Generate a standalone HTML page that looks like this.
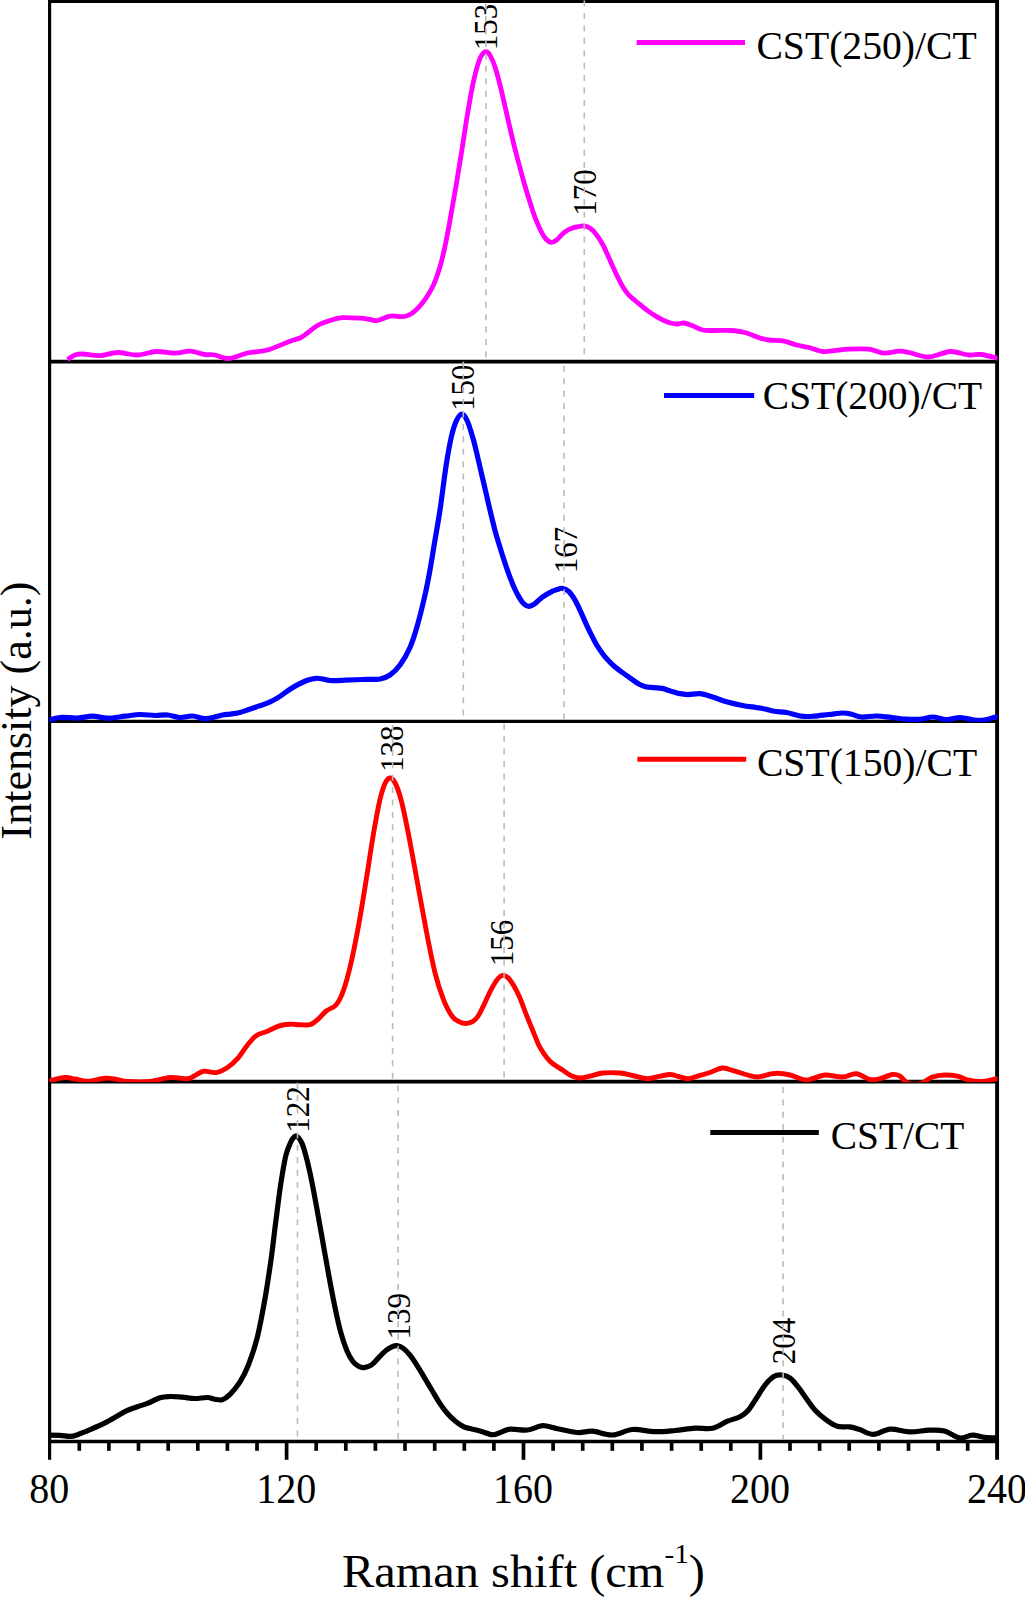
<!DOCTYPE html>
<html lang="en"><head><meta charset="utf-8"><title>Raman spectra</title>
<style>html,body{margin:0;padding:0;background:#fff}body{width:1025px;height:1598px;overflow:hidden}svg{display:block}text{font-family:"Liberation Serif",serif;fill:#000}</style></head><body>
<svg width="1025" height="1598" viewBox="0 0 1025 1598">
<rect width="1025" height="1598" fill="#fff"/>
<defs>
<clipPath id="c0"><rect x="49.4" y="1.4" width="948.2" height="360.8"/></clipPath>
<clipPath id="c1"><rect x="49.4" y="361.6" width="948.2" height="360.4"/></clipPath>
<clipPath id="c2"><rect x="49.4" y="721.4" width="948.2" height="360.8"/></clipPath>
<clipPath id="c3"><rect x="49.4" y="1081.6" width="948.2" height="360.5"/></clipPath>
</defs>
<g stroke="#000" stroke-width="3.4" fill="none" stroke-linecap="butt">
<line x1="49.6" y1="0" x2="49.6" y2="1459.8" stroke-width="3.2"/>
<line x1="997.1" y1="0" x2="997.1" y2="1459.8" stroke-width="3.9"/>
<line x1="48.0" y1="1.4" x2="999.0" y2="1.4" stroke-width="3.4"/>
<line x1="48.0" y1="361.6" x2="999.0" y2="361.6" stroke-width="3.7"/>
<line x1="48.0" y1="721.4" x2="999.0" y2="721.4" stroke-width="3.4"/>
<line x1="48.0" y1="1081.6" x2="999.0" y2="1081.6" stroke-width="3.8"/>
<line x1="48.0" y1="1441.5" x2="999.0" y2="1441.5" stroke-width="3.5"/>
<line x1="79.3" y1="1441.5" x2="79.3" y2="1450.8" stroke-width="3.7"/>
<line x1="108.9" y1="1441.5" x2="108.9" y2="1450.8" stroke-width="3.7"/>
<line x1="138.5" y1="1441.5" x2="138.5" y2="1450.8" stroke-width="3.7"/>
<line x1="168.2" y1="1441.5" x2="168.2" y2="1450.8" stroke-width="3.7"/>
<line x1="197.8" y1="1441.5" x2="197.8" y2="1450.8" stroke-width="3.7"/>
<line x1="227.4" y1="1441.5" x2="227.4" y2="1450.8" stroke-width="3.7"/>
<line x1="257.0" y1="1441.5" x2="257.0" y2="1450.8" stroke-width="3.7"/>
<line x1="286.6" y1="1441.5" x2="286.6" y2="1459.8" stroke-width="3.7"/>
<line x1="316.2" y1="1441.5" x2="316.2" y2="1450.8" stroke-width="3.7"/>
<line x1="345.8" y1="1441.5" x2="345.8" y2="1450.8" stroke-width="3.7"/>
<line x1="375.4" y1="1441.5" x2="375.4" y2="1450.8" stroke-width="3.7"/>
<line x1="405.0" y1="1441.5" x2="405.0" y2="1450.8" stroke-width="3.7"/>
<line x1="434.7" y1="1441.5" x2="434.7" y2="1450.8" stroke-width="3.7"/>
<line x1="464.3" y1="1441.5" x2="464.3" y2="1450.8" stroke-width="3.7"/>
<line x1="493.9" y1="1441.5" x2="493.9" y2="1450.8" stroke-width="3.7"/>
<line x1="523.5" y1="1441.5" x2="523.5" y2="1459.8" stroke-width="3.7"/>
<line x1="553.1" y1="1441.5" x2="553.1" y2="1450.8" stroke-width="3.7"/>
<line x1="582.7" y1="1441.5" x2="582.7" y2="1450.8" stroke-width="3.7"/>
<line x1="612.3" y1="1441.5" x2="612.3" y2="1450.8" stroke-width="3.7"/>
<line x1="641.9" y1="1441.5" x2="641.9" y2="1450.8" stroke-width="3.7"/>
<line x1="671.6" y1="1441.5" x2="671.6" y2="1450.8" stroke-width="3.7"/>
<line x1="701.2" y1="1441.5" x2="701.2" y2="1450.8" stroke-width="3.7"/>
<line x1="730.8" y1="1441.5" x2="730.8" y2="1450.8" stroke-width="3.7"/>
<line x1="760.4" y1="1441.5" x2="760.4" y2="1459.8" stroke-width="3.7"/>
<line x1="790.0" y1="1441.5" x2="790.0" y2="1450.8" stroke-width="3.7"/>
<line x1="819.6" y1="1441.5" x2="819.6" y2="1450.8" stroke-width="3.7"/>
<line x1="849.2" y1="1441.5" x2="849.2" y2="1450.8" stroke-width="3.7"/>
<line x1="878.9" y1="1441.5" x2="878.9" y2="1450.8" stroke-width="3.7"/>
<line x1="908.5" y1="1441.5" x2="908.5" y2="1450.8" stroke-width="3.7"/>
<line x1="938.1" y1="1441.5" x2="938.1" y2="1450.8" stroke-width="3.7"/>
<line x1="967.7" y1="1441.5" x2="967.7" y2="1450.8" stroke-width="3.7"/>
</g>
<path clip-path="url(#c0)" d="M67.5 359.5C68.8 358.8 72.5 355.9 75.0 355.0C77.5 354.1 78.3 353.9 82.5 354.0C86.7 354.1 94.2 355.9 100.0 355.7C105.8 355.4 111.2 352.6 117.5 352.5C123.8 352.4 131.1 355.2 137.5 355.0C143.9 354.8 149.8 351.8 156.0 351.5C162.2 351.2 169.3 353.2 175.0 353.2C180.7 353.1 185.0 351.0 190.0 351.2C195.0 351.4 200.8 353.9 205.0 354.5C209.2 355.1 211.1 354.3 215.0 355.0C218.9 355.7 223.3 358.8 228.7 358.5C234.1 358.2 241.0 354.4 247.5 353.0C254.0 351.6 260.4 352.0 267.5 350.0C274.6 348.0 284.6 343.2 290.0 341.2C295.4 339.2 297.1 339.4 300.0 338.0C302.9 336.6 304.6 335.1 307.5 333.0C310.4 330.9 313.8 327.6 317.5 325.5C321.2 323.4 325.8 321.8 330.0 320.5C334.2 319.2 337.5 318.1 342.5 317.7C347.5 317.3 355.4 317.9 360.0 318.2C364.6 318.5 367.1 319.1 370.0 319.5C372.9 319.9 374.2 321.1 377.5 320.5C380.8 319.9 386.6 316.8 390.0 316.1C393.4 315.4 395.7 316.4 398.0 316.5C400.3 316.6 402.0 316.8 404.0 316.5C406.0 316.2 408.0 315.6 410.0 314.5C412.0 313.4 414.0 311.8 416.0 310.0C418.0 308.2 420.0 306.0 422.0 303.5C424.0 301.0 426.2 297.9 428.0 295.0C429.8 292.1 431.5 289.2 433.0 286.0C434.5 282.8 435.8 279.5 437.0 276.0C438.2 272.5 439.4 268.8 440.5 265.0C441.6 261.2 442.5 257.3 443.5 253.0C444.5 248.7 445.5 244.0 446.5 239.0C447.5 234.0 448.5 228.5 449.5 223.0C450.5 217.5 451.5 211.7 452.5 206.0C453.5 200.3 454.4 195.2 455.5 189.0C456.6 182.8 457.7 175.6 458.8 169.0C459.9 162.4 460.5 158.8 462.0 149.3C463.5 139.8 466.0 122.9 467.8 112.2C469.6 101.5 471.1 92.7 472.7 84.9C474.3 77.1 476.1 70.3 477.6 65.4C479.1 60.5 480.1 57.9 481.5 55.6C482.9 53.3 484.6 51.7 486.0 51.7C487.4 51.7 488.7 53.0 490.2 55.6C491.7 58.2 493.5 62.4 495.1 67.3C496.7 72.2 498.2 77.8 500.0 84.9C501.8 92.1 503.9 101.8 505.9 110.2C507.8 118.7 509.8 127.5 511.7 135.6C513.6 143.7 515.6 151.5 517.6 159.0C519.6 166.5 521.5 173.7 523.4 180.5C525.3 187.3 527.3 193.8 529.3 200.0C531.2 206.2 533.1 212.4 535.1 217.6C537.1 222.8 539.2 227.6 541.0 231.2C542.8 234.8 544.2 237.2 545.9 239.0C547.6 240.8 549.3 242.1 551.1 242.3C552.9 242.5 554.6 241.5 556.6 240.0C558.6 238.5 561.1 235.0 563.4 233.2C565.7 231.3 567.9 230.0 570.2 228.9C572.6 227.8 575.2 227.3 577.5 226.8C579.8 226.3 581.9 225.6 584.0 225.8C586.1 226.1 588.2 226.8 590.3 228.3C592.4 229.8 594.5 232.1 596.6 234.9C598.7 237.7 601.1 241.5 603.0 245.0C604.9 248.5 606.3 252.1 608.0 255.8C609.7 259.5 611.4 263.5 613.1 267.2C614.8 270.9 616.5 274.6 618.2 278.0C619.9 281.4 621.6 284.8 623.3 287.5C625.0 290.2 626.4 292.4 628.3 294.5C630.2 296.6 632.6 298.4 634.7 300.2C636.8 302.0 638.7 303.4 641.0 305.3C643.3 307.2 646.1 309.5 648.6 311.4C651.1 313.2 653.7 314.9 656.2 316.4C658.8 317.9 661.4 319.4 663.9 320.5C666.4 321.6 669.2 322.7 671.5 323.3C673.8 323.9 675.7 324.1 677.8 324.0C679.9 323.9 681.6 322.7 684.1 323.0C686.6 323.3 689.4 324.5 692.5 325.7C695.6 326.9 698.8 329.2 702.5 330.0C706.2 330.8 710.4 330.4 715.0 330.5C719.6 330.6 725.0 330.2 730.0 330.5C735.0 330.8 740.0 331.2 745.0 332.5C750.0 333.8 756.0 336.8 760.0 338.0C764.0 339.2 765.0 339.5 769.0 340.0C773.0 340.5 779.4 340.4 784.0 341.2C788.6 342.0 792.3 343.9 796.5 345.0C800.7 346.1 804.6 346.4 809.0 347.5C813.4 348.6 818.5 351.0 822.7 351.5C826.9 352.0 829.6 351.1 834.0 350.7C838.4 350.3 843.2 349.4 849.0 349.2C854.8 348.9 863.2 348.5 869.0 349.2C874.8 349.9 879.0 352.9 884.0 353.2C889.0 353.5 894.8 351.3 899.0 351.2C903.2 351.1 904.2 351.5 909.0 352.5C913.8 353.5 922.3 356.8 927.7 357.0C933.1 357.2 937.5 354.6 941.5 353.7C945.5 352.8 946.9 351.3 951.5 351.5C956.1 351.7 964.0 354.5 969.0 355.0C974.0 355.5 976.7 353.9 981.5 354.5C986.3 355.1 995.2 357.7 998.0 358.3" fill="none" stroke="#ff00ff" stroke-width="4.8" stroke-linejoin="round" stroke-linecap="butt"/>
<path clip-path="url(#c1)" d="M48.0 720.3C50.0 719.8 55.1 717.9 60.0 717.5C64.9 717.1 72.1 718.2 77.5 718.0C82.9 717.8 87.5 716.2 92.5 716.2C97.5 716.2 102.1 718.2 107.5 718.2C112.9 718.2 119.6 716.8 125.0 716.2C130.4 715.6 135.0 714.6 140.0 714.5C145.0 714.4 150.4 715.4 155.0 715.5C159.6 715.6 163.3 714.7 167.5 715.0C171.7 715.3 175.8 717.3 180.0 717.5C184.2 717.7 188.2 715.8 192.5 716.0C196.8 716.2 201.0 718.9 206.0 718.7C211.0 718.5 218.5 715.8 222.5 715.0C226.5 714.2 227.1 714.5 230.0 714.1C232.9 713.7 236.6 713.3 239.8 712.5C243.1 711.7 246.2 710.4 249.5 709.3C252.8 708.2 256.1 707.0 259.3 705.9C262.6 704.8 265.8 703.9 269.0 702.4C272.2 700.9 275.6 699.1 278.8 697.1C282.1 695.1 285.2 692.3 288.5 690.2C291.8 688.1 295.1 686.1 298.3 684.4C301.6 682.7 305.1 681.0 308.0 680.0C310.9 679.0 313.4 678.5 315.9 678.3C318.3 678.1 320.3 678.6 322.7 679.0C325.1 679.4 326.3 680.3 330.0 680.5C333.7 680.7 339.6 680.4 345.0 680.2C350.4 680.0 356.7 679.7 362.5 679.5C368.3 679.3 375.4 679.8 380.0 679.0C384.6 678.2 386.7 677.3 390.0 675.0C393.3 672.7 396.7 669.6 400.0 665.0C403.3 660.4 407.1 654.2 410.0 647.5C412.9 640.8 415.0 633.8 417.5 625.0C420.0 616.2 422.9 604.2 425.0 595.0C427.1 585.8 428.3 579.2 430.0 570.0C431.7 560.8 433.3 550.0 435.0 540.0C436.7 530.0 438.1 522.5 440.0 510.0C441.9 497.5 444.3 477.1 446.2 465.0C448.1 452.9 449.5 444.8 451.2 437.5C452.9 430.2 454.4 425.1 456.2 421.2C458.0 417.3 460.1 414.2 462.0 414.2C463.9 414.2 465.4 416.9 467.3 421.0C469.2 425.1 471.4 432.8 473.2 439.0C475.0 445.2 476.2 451.0 478.0 458.5C479.8 466.0 481.9 475.4 483.9 483.9C485.9 492.4 487.9 501.2 489.8 509.3C491.8 517.4 493.7 525.6 495.6 532.7C497.6 539.9 499.6 546.0 501.5 552.2C503.4 558.4 505.4 564.3 507.3 569.8C509.2 575.3 511.3 580.8 513.2 585.4C515.2 590.0 517.2 594.0 519.0 597.1C520.8 600.2 522.3 602.4 523.9 603.9C525.5 605.4 527.0 606.4 528.8 606.4C530.6 606.4 532.3 605.4 534.6 603.9C536.9 602.4 539.5 599.2 542.4 597.1C545.3 595.0 549.8 592.5 552.2 591.3C554.6 590.0 555.4 590.1 557.0 589.6C558.6 589.1 560.1 588.0 562.0 588.3C563.9 588.6 566.4 589.4 568.5 591.2C570.6 593.1 572.7 596.2 574.6 599.4C576.5 602.6 578.3 606.4 580.1 610.3C581.9 614.2 583.7 618.6 585.5 622.6C587.3 626.6 589.2 630.6 591.0 634.2C592.8 637.9 594.6 641.4 596.4 644.5C598.2 647.6 600.1 650.2 601.9 652.7C603.7 655.2 605.3 657.2 607.4 659.5C609.5 661.8 611.7 664.1 614.2 666.3C616.7 668.5 619.7 670.5 622.4 672.5C625.1 674.5 627.9 676.4 630.6 678.3C633.3 680.2 636.3 682.7 638.8 684.1C641.3 685.5 643.1 686.2 645.6 686.8C648.1 687.4 651.1 687.3 653.8 687.6C656.5 687.9 659.3 687.9 662.0 688.4C664.7 688.9 667.5 690.1 670.2 690.9C672.9 691.7 675.4 692.8 678.4 693.4C681.4 694.0 684.4 694.5 688.0 694.6C691.6 694.7 695.9 693.3 700.0 693.7C704.1 694.1 707.9 695.6 712.5 697.0C717.1 698.4 722.5 700.6 727.5 702.0C732.5 703.4 737.8 704.6 742.5 705.5C747.2 706.4 752.8 707.0 756.0 707.5C759.2 708.0 758.5 707.6 761.5 708.2C764.5 708.8 769.8 710.5 774.0 711.2C778.2 711.9 781.9 711.7 786.5 712.5C791.1 713.3 796.9 715.6 801.5 716.2C806.1 716.8 809.4 716.5 814.0 716.2C818.6 715.9 824.2 715.0 829.0 714.5C833.8 714.0 839.0 713.0 842.7 713.0C846.5 713.0 848.4 713.5 851.5 714.2C854.6 714.9 857.3 716.7 861.5 717.0C865.7 717.3 871.5 715.9 876.5 716.0C881.5 716.1 886.5 717.0 891.5 717.5C896.5 718.0 901.5 718.9 906.5 719.2C911.5 719.5 917.1 719.6 921.5 719.2C925.9 718.8 928.5 717.0 932.7 717.0C936.9 717.0 941.9 719.4 946.5 719.5C951.1 719.6 955.6 717.4 960.2 717.5C964.8 717.6 970.0 719.6 974.0 720.0C978.0 720.4 980.0 720.6 984.0 720.0C988.0 719.4 995.7 716.8 998.0 716.2" fill="none" stroke="#0000ff" stroke-width="5.2" stroke-linejoin="round" stroke-linecap="butt"/>
<path clip-path="url(#c2)" d="M48.0 1081.0C50.8 1080.4 60.5 1077.8 65.0 1077.5C69.5 1077.2 71.2 1078.4 75.0 1079.0C78.8 1079.6 82.5 1081.3 87.5 1081.2C92.5 1081.1 100.4 1078.6 105.0 1078.2C109.6 1077.8 111.2 1078.5 115.0 1079.0C118.8 1079.5 121.7 1081.1 127.5 1081.5C133.3 1081.9 142.9 1082.2 150.0 1081.5C157.1 1080.8 163.8 1078.0 170.0 1077.5C176.2 1077.0 183.3 1079.0 187.5 1078.7C191.7 1078.4 192.3 1076.8 195.0 1075.5C197.7 1074.2 200.2 1071.7 203.7 1071.2C207.2 1070.7 212.2 1073.1 216.2 1072.5C220.2 1071.9 223.9 1069.8 227.5 1067.5C231.1 1065.2 234.2 1062.5 237.5 1058.7C240.8 1055.0 244.4 1048.8 247.5 1045.0C250.6 1041.2 252.9 1038.0 256.2 1035.7C259.5 1033.4 263.5 1032.9 267.5 1031.2C271.5 1029.5 276.2 1026.9 280.0 1025.7C283.8 1024.5 286.7 1024.4 290.0 1024.2C293.3 1024.0 296.7 1024.6 300.0 1024.7C303.3 1024.8 307.1 1025.5 310.0 1024.7C312.9 1023.9 314.8 1022.0 317.5 1019.7C320.2 1017.4 323.1 1013.5 326.2 1011.0C329.3 1008.5 333.3 1008.2 336.2 1004.7C339.1 1001.2 341.2 996.8 343.7 989.7C346.2 982.6 348.7 973.0 351.2 962.2C353.7 951.4 356.2 938.5 358.7 924.8C361.2 911.1 363.7 895.3 366.2 879.9C368.7 864.5 371.4 845.7 373.7 832.4C376.0 819.1 378.0 808.0 379.9 799.9C381.8 791.8 383.2 787.4 384.9 783.7C386.6 780.1 388.2 778.2 389.9 778.0C391.6 777.8 393.0 778.9 394.9 782.5C396.8 786.1 398.8 791.2 401.1 799.9C403.4 808.6 405.9 821.1 408.6 834.9C411.3 848.6 414.5 866.6 417.4 882.4C420.3 898.2 423.2 914.8 426.1 929.8C429.0 944.8 432.0 960.6 434.9 972.3C437.8 984.0 440.7 992.4 443.6 999.8C446.5 1007.2 449.7 1012.9 452.3 1016.5C454.9 1020.1 456.7 1020.4 459.0 1021.6C461.3 1022.8 463.7 1023.5 466.0 1023.5C468.3 1023.5 470.9 1022.7 473.0 1021.4C475.1 1020.1 476.9 1017.9 478.5 1015.5C480.1 1013.1 480.7 1011.5 482.8 1007.2C484.9 1002.9 488.4 994.7 491.0 989.8C493.6 984.9 496.4 980.4 498.5 978.0C500.6 975.6 501.6 975.0 503.5 975.3C505.4 975.6 507.3 976.5 509.8 979.8C512.3 983.0 515.6 988.6 518.5 994.8C521.4 1001.0 524.5 1010.3 527.3 1017.2C530.0 1024.1 532.9 1031.0 535.0 1036.0C537.1 1041.0 537.5 1043.3 540.0 1047.5C542.5 1051.7 546.2 1057.5 550.0 1061.2C553.8 1065.0 558.8 1067.5 562.5 1070.0C566.2 1072.5 569.4 1074.9 572.5 1076.2C575.6 1077.5 578.3 1078.0 581.2 1078.0C584.1 1078.0 586.5 1077.0 590.0 1076.2C593.5 1075.4 597.5 1073.5 602.5 1073.0C607.5 1072.5 615.0 1072.6 620.0 1073.0C625.0 1073.4 627.9 1074.5 632.5 1075.5C637.1 1076.5 642.9 1078.6 647.5 1078.7C652.1 1078.8 656.2 1076.9 660.0 1076.2C663.8 1075.5 666.9 1074.5 670.0 1074.5C673.1 1074.5 675.8 1075.8 678.7 1076.5C681.6 1077.2 684.4 1078.8 687.5 1078.7C690.6 1078.7 693.8 1077.2 697.5 1076.2C701.2 1075.2 705.8 1073.9 710.0 1072.5C714.2 1071.1 718.3 1068.2 722.5 1068.0C726.7 1067.8 730.8 1070.0 735.0 1071.2C739.2 1072.4 743.8 1074.0 747.5 1075.0C751.2 1076.0 754.0 1077.1 757.5 1077.0C761.0 1076.9 765.4 1075.1 768.7 1074.5C772.0 1073.9 774.0 1073.1 777.5 1073.2C781.0 1073.3 785.4 1073.9 790.0 1075.0C794.6 1076.1 801.2 1079.4 805.0 1080.0C808.8 1080.6 809.2 1079.5 812.5 1078.7C815.8 1077.9 820.0 1075.3 825.0 1075.0C830.0 1074.7 837.3 1077.2 842.5 1077.0C847.7 1076.8 851.6 1073.3 856.2 1073.7C860.8 1074.1 866.0 1078.7 870.0 1079.5C874.0 1080.3 876.2 1079.5 880.0 1078.7C883.8 1077.9 889.2 1074.9 892.5 1074.5C895.8 1074.1 897.5 1074.8 900.0 1076.2C902.5 1077.6 904.2 1081.7 907.5 1083.0C910.8 1084.3 915.8 1085.0 920.0 1084.0C924.2 1083.0 928.3 1078.5 932.5 1077.0C936.7 1075.5 940.8 1075.1 945.0 1075.0C949.2 1074.9 953.3 1075.3 957.5 1076.2C961.7 1077.1 965.4 1079.7 970.0 1080.5C974.6 1081.3 980.3 1081.6 985.0 1081.2C989.7 1080.8 995.8 1078.8 998.0 1078.3" fill="none" stroke="#ff0000" stroke-width="4.9" stroke-linejoin="round" stroke-linecap="butt"/>
<path clip-path="url(#c3)" d="M48.0 1435.2C50.0 1435.2 56.3 1435.2 60.0 1435.4C63.7 1435.6 67.1 1436.5 70.0 1436.4C72.9 1436.3 74.2 1435.8 77.5 1434.7C80.8 1433.6 85.4 1431.7 90.0 1429.7C94.6 1427.7 100.4 1425.2 105.0 1422.9C109.6 1420.6 113.7 1418.0 117.4 1415.9C121.1 1413.8 124.1 1411.9 127.4 1410.4C130.7 1408.9 134.1 1407.9 137.4 1406.7C140.7 1405.5 143.7 1404.9 147.4 1403.4C151.2 1401.9 156.2 1398.9 159.9 1397.7C163.7 1396.5 166.2 1396.6 169.9 1396.5C173.7 1396.4 178.2 1396.9 182.4 1397.2C186.6 1397.5 190.7 1398.5 194.8 1398.5C199.0 1398.5 204.0 1397.4 207.3 1397.5C210.6 1397.6 212.3 1398.8 214.8 1399.2C217.3 1399.6 219.8 1400.5 222.3 1399.7C224.8 1399.0 226.9 1397.6 229.8 1394.7C232.7 1391.8 236.7 1387.2 239.8 1382.2C242.9 1377.2 245.6 1372.2 248.5 1364.7C251.4 1357.2 254.6 1348.1 257.3 1337.3C260.0 1326.5 262.5 1312.7 264.8 1299.8C267.1 1286.9 269.1 1273.1 271.0 1259.8C272.9 1246.5 274.3 1232.8 276.0 1219.9C277.7 1207.0 279.3 1193.2 281.0 1182.4C282.7 1171.6 284.3 1161.7 286.0 1154.9C287.7 1148.1 289.7 1144.5 291.0 1141.5C292.3 1138.5 293.1 1138.1 294.0 1137.2C294.9 1136.3 295.5 1135.5 296.6 1136.0C297.7 1136.5 299.2 1138.3 300.5 1140.5C301.8 1142.7 302.5 1143.8 304.1 1149.3C305.7 1154.8 308.2 1164.3 310.2 1173.7C312.2 1183.1 314.3 1194.4 316.3 1205.4C318.3 1216.4 320.4 1228.1 322.4 1239.5C324.4 1250.9 326.5 1262.7 328.5 1273.7C330.5 1284.7 332.6 1295.7 334.6 1305.4C336.6 1315.2 338.7 1324.7 340.7 1332.2C342.7 1339.7 344.8 1345.6 346.8 1350.5C348.8 1355.4 350.9 1358.8 352.9 1361.5C354.9 1364.2 357.2 1365.6 359.0 1366.6C360.8 1367.6 361.9 1367.8 363.9 1367.6C365.9 1367.3 368.8 1366.7 371.2 1365.1C373.6 1363.5 376.1 1360.2 378.5 1357.8C380.9 1355.4 383.6 1352.3 385.9 1350.5C388.1 1348.7 390.2 1347.6 392.0 1346.8C393.8 1346.0 395.0 1345.4 396.8 1345.6C398.6 1345.8 400.7 1346.4 402.9 1348.0C405.1 1349.6 407.8 1352.4 410.2 1355.4C412.6 1358.5 415.2 1362.5 417.6 1366.3C420.1 1370.1 422.5 1374.4 424.9 1378.5C427.3 1382.6 429.8 1386.6 432.2 1390.7C434.6 1394.8 437.1 1399.2 439.5 1402.9C441.9 1406.6 444.2 1409.7 446.8 1412.7C449.4 1415.8 452.5 1418.9 455.4 1421.2C458.2 1423.5 461.5 1425.6 463.9 1426.8C466.3 1428.0 467.4 1427.9 470.0 1428.6C472.6 1429.3 476.1 1429.9 479.8 1430.9C483.5 1431.9 489.0 1434.4 492.3 1434.7C495.6 1435.0 496.9 1433.6 499.8 1432.7C502.8 1431.8 505.4 1429.7 510.0 1429.2C514.6 1428.8 522.1 1430.6 527.5 1430.0C532.9 1429.4 537.5 1425.9 542.5 1425.7C547.5 1425.5 551.7 1427.6 557.5 1428.7C563.3 1429.8 571.7 1432.1 577.5 1432.5C583.3 1432.9 586.7 1430.8 592.5 1431.2C598.3 1431.6 605.8 1435.3 612.5 1435.0C619.2 1434.7 625.4 1430.0 632.5 1429.5C639.6 1429.0 647.9 1431.5 655.0 1431.7C662.1 1431.9 668.3 1431.1 675.0 1430.5C681.7 1429.9 688.8 1428.6 695.0 1428.2C701.2 1427.8 707.1 1429.4 712.5 1428.2C717.9 1427.0 722.9 1423.1 727.5 1421.2C732.1 1419.3 736.5 1418.5 740.0 1416.7C743.5 1414.9 745.5 1413.4 748.3 1410.2C751.1 1407.0 753.9 1401.9 756.7 1397.7C759.5 1393.5 762.2 1388.6 765.0 1385.1C767.8 1381.6 770.6 1378.5 773.4 1376.8C776.2 1375.1 778.9 1374.8 781.7 1375.0C784.5 1375.2 787.3 1376.1 790.1 1378.2C792.9 1380.3 795.6 1383.9 798.4 1387.4C801.2 1390.9 803.9 1395.2 806.7 1399.0C809.5 1402.8 811.9 1406.7 815.1 1410.2C818.4 1413.7 822.5 1417.2 826.2 1419.9C829.9 1422.6 833.4 1425.1 837.3 1426.3C841.2 1427.5 846.1 1426.4 849.8 1426.9C853.5 1427.5 855.6 1428.3 859.6 1429.6C863.6 1430.8 868.4 1434.5 873.5 1434.4C878.6 1434.3 884.2 1429.5 890.2 1429.1C896.2 1428.7 903.1 1431.7 909.6 1431.9C916.1 1432.1 923.3 1430.4 929.1 1430.2C934.9 1430.0 939.3 1429.7 944.4 1431.0C949.5 1432.3 955.1 1437.3 959.7 1438.0C964.3 1438.7 968.0 1435.3 972.2 1435.2C976.4 1435.1 980.4 1436.9 984.7 1437.4C989.0 1437.9 995.8 1437.9 998.0 1438.0" fill="none" stroke="#000000" stroke-width="5.2" stroke-linejoin="round" stroke-linecap="butt"/>
<text transform="translate(497.3 50.2) rotate(-90) scale(0.94 1)" font-size="33">153</text>
<text transform="translate(596.2 215.7) rotate(-90) scale(0.94 1)" font-size="33">170</text>
<text transform="translate(474.4 411.0) rotate(-90) scale(0.94 1)" font-size="33">150</text>
<text transform="translate(577.0 573.3) rotate(-90) scale(0.94 1)" font-size="33">167</text>
<text transform="translate(403.2 772.0) rotate(-90) scale(0.94 1)" font-size="33">138</text>
<text transform="translate(513.1 966.2) rotate(-90) scale(0.94 1)" font-size="33">156</text>
<text transform="translate(309.4 1132.7) rotate(-90) scale(0.94 1)" font-size="33">122</text>
<text transform="translate(409.9 1339.5) rotate(-90) scale(0.94 1)" font-size="33">139</text>
<text transform="translate(794.8 1364.2) rotate(-90) scale(0.94 1)" font-size="33">204</text>
<g stroke="#bbbbbb" stroke-width="1.6" stroke-dasharray="6 6.42" fill="none">
<line x1="485.9" y1="3.7" x2="485.9" y2="360.1"/>
<line x1="584.3" y1="0.6" x2="584.3" y2="360.1"/>
<line x1="463.3" y1="361.8" x2="463.3" y2="719.9"/>
<line x1="564.1" y1="365.8" x2="564.1" y2="719.9"/>
<line x1="392.6" y1="725.0" x2="392.6" y2="1080.1"/>
<line x1="504.1" y1="723.7" x2="504.1" y2="1080.1"/>
<line x1="297.5" y1="1082.7" x2="297.5" y2="1440.0"/>
<line x1="398.1" y1="1085.2" x2="398.1" y2="1440.0"/>
<line x1="783.1" y1="1087.0" x2="783.1" y2="1440.0"/>
</g>
<line x1="636.7" y1="42.5" x2="745.0" y2="42.5" stroke="#ff00ff" stroke-width="5"/>
<text transform="translate(756.4 58.5) scale(0.992 1)" font-size="40">CST(250)/CT</text>
<line x1="664.0" y1="395.6" x2="754.2" y2="395.6" stroke="#0000ff" stroke-width="5"/>
<text transform="translate(762.8 408.7) scale(0.987 1)" font-size="40">CST(200)/CT</text>
<line x1="637.4" y1="759.3" x2="746.2" y2="759.3" stroke="#ff0000" stroke-width="5"/>
<text transform="translate(756.9 775.7) scale(0.992 1)" font-size="40">CST(150)/CT</text>
<line x1="710.3" y1="1132.5" x2="818.8" y2="1132.5" stroke="#000000" stroke-width="5"/>
<text transform="translate(830.8 1148.6) scale(0.985 1)" font-size="40">CST/CT</text>
<text transform="translate(49.3 1502.6) scale(1 1.05)" font-size="40" text-anchor="middle">80</text>
<text transform="translate(286.2 1502.6) scale(1 1.05)" font-size="40" text-anchor="middle">120</text>
<text transform="translate(523.1 1502.6) scale(1 1.05)" font-size="40" text-anchor="middle">160</text>
<text transform="translate(760.0 1502.6) scale(1 1.05)" font-size="40" text-anchor="middle">200</text>
<text transform="translate(996.9 1502.6) scale(1 1.05)" font-size="40" text-anchor="middle">240</text>
<text transform="translate(342.0 1586.8) scale(1.008 0.972)" font-size="48">Raman shift (cm<tspan font-size="29" dy="-25">-1</tspan><tspan dy="25">)</tspan></text>
<text transform="translate(31.0 839.5) rotate(-90) scale(0.978 1)" font-size="45">Intensity (a.u.)</text>
</svg></body></html>
